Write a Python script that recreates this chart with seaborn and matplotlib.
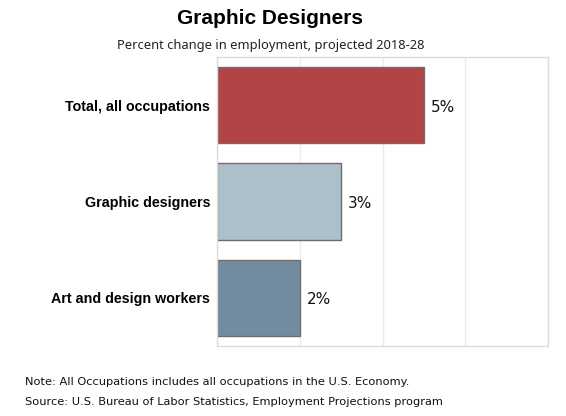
import matplotlib
matplotlib.use("Agg")
import matplotlib.pyplot as plt
import seaborn as sns
import pandas as pd

categories = ["Total, all occupations", "Graphic designers", "Art and design workers"]
values = [5, 3, 2]
value_labels = ["5%", "3%", "2%"]
colors = ["#B34446", "#ADBFCA", "#718CA1"]

sns.set_style("white")
plt.rcParams['font.family'] = ['DejaVu Sans']

df = pd.DataFrame({"cat": categories, "val": values})

fig = plt.figure(figsize=(5.66, 4.16), dpi=100)
ax = fig.add_axes([217/566, 1 - 346/416, (548-217)/566, (346-57)/416])

sns.barplot(data=df, x="val", y="cat", hue="cat", palette=colors, legend=False,
            width=0.79, edgecolor="#6e6e6e", linewidth=1.0, saturation=1, ax=ax)

ax.set_xlim(0, 8)
ax.set_ylim(2.5, -0.5)
ax.set_xticks([0, 2, 4, 6, 8])
ax.set_xticklabels([])
ax.grid(axis="x", color="#ebebeb", linewidth=1)
ax.set_axisbelow(True)
ax.set_xlabel("")
ax.set_ylabel("")
for s in ax.spines.values():
    s.set_color("#dcdcdc")
    s.set_linewidth(1)
ax.tick_params(axis="y", length=0, pad=5)
ax.tick_params(axis="x", length=0)
for lbl in ax.get_yticklabels():
    lbl.set_fontfamily("Liberation Sans")
    lbl.set_fontweight("bold")
    lbl.set_fontsize(10.3)
    lbl.set_color("black")

for i, (v, t) in enumerate(zip(values, value_labels)):
    ax.text(v + 0.17, i + 0.02, t, va="center", ha="left", fontsize=11, color="#111111")

fig.text(270/566, 1 - 18/416, "Graphic Designers", ha="center", va="center",
         fontsize=15, fontweight="bold", family="Liberation Sans", color="black")
fig.text(271/566, 1 - 45/416, "Percent change in employment, projected 2018-28", ha="center",
         va="center", fontsize=9.3, color="#222222", family="Noto Sans")
fig.text(25/566, 1 - 382/416, "Note: All Occupations includes all occupations in the U.S. Economy.",
         ha="left", va="center", fontsize=8.2, color="#111111")
fig.text(25/566, 1 - 402/416, "Source: U.S. Bureau of Labor Statistics, Employment Projections program",
         ha="left", va="center", fontsize=8.2, color="#111111")

fig.savefig("out.png", dpi=100)
